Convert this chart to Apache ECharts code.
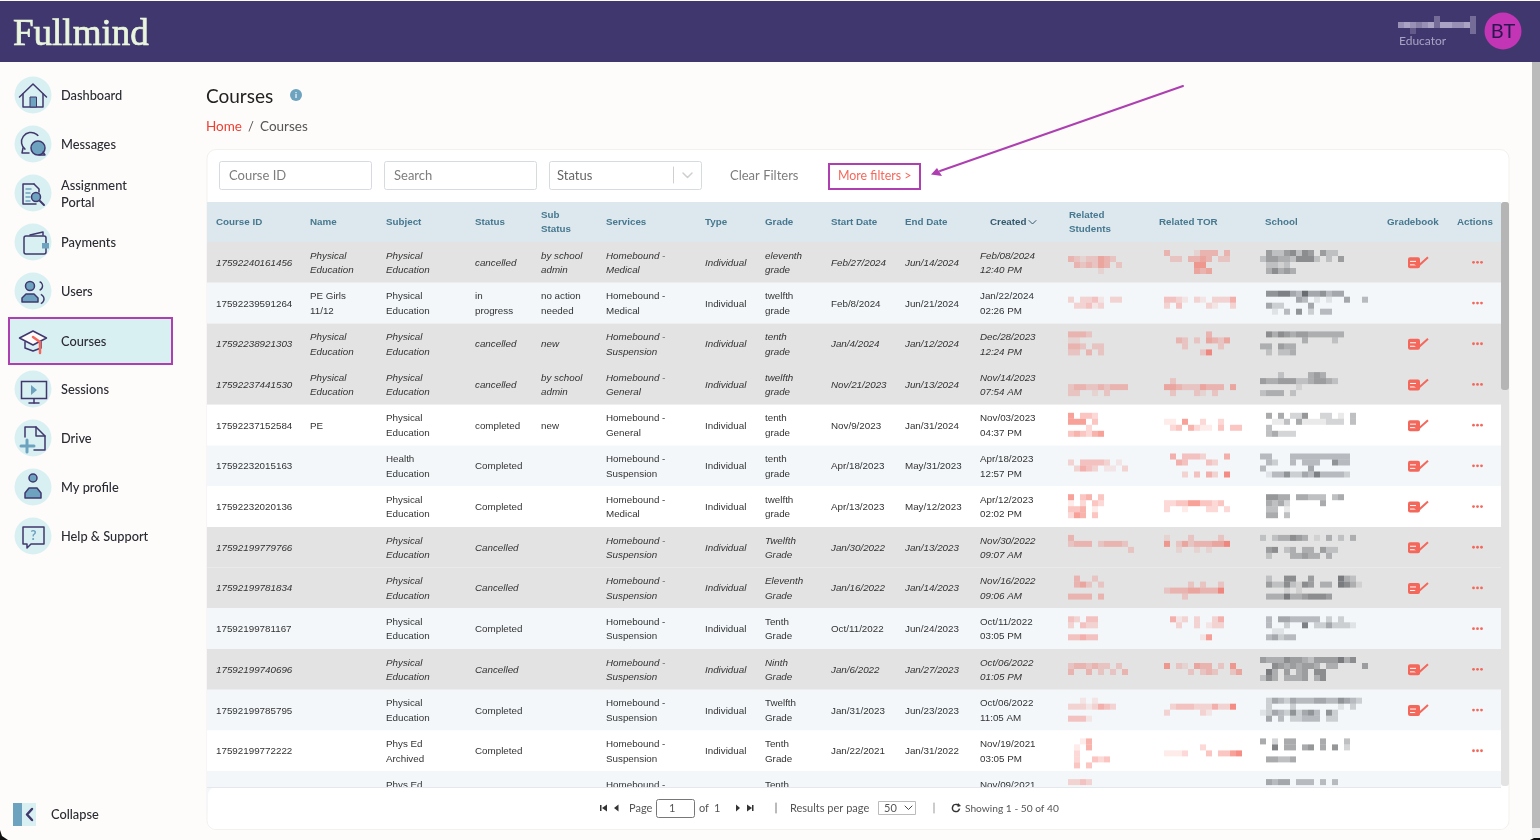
<!DOCTYPE html>
<html>
<head>
<meta charset="utf-8">
<title>Courses</title>
<script src="https://cdn.jsdelivr.net/npm/echarts@6/dist/echarts.min.js"></script>
<style>
html, body { margin: 0; padding: 0; background: #fdfcfa; overflow: hidden; }
#main { width: 1540px; height: 840px; }
</style>
</head>
<body>
<div id="main"></div>
<script>
// table content
const courseIds = ['17592240161456','17592239591264','17592238921303','17592237441530','17592237152584','17592232015163','17592232020136','17592199779766','17592199781834','17592199781167','17592199740696','17592199785795','17592199772222',''];
const names = ['Physical\nEducation','PE Girls\n11/12','Physical\nEducation','Physical\nEducation','PE','','','','','','','','',''];
const subjects = ['Physical\nEducation','Physical\nEducation','Physical\nEducation','Physical\nEducation','Physical\nEducation','Health\nEducation','Physical\nEducation','Physical\nEducation','Physical\nEducation','Physical\nEducation','Physical\nEducation','Physical\nEducation','Phys Ed\nArchived','Phys Ed\n '];
const statuses = ['cancelled','in\nprogress','cancelled','cancelled','completed','Completed','Completed','Cancelled','Cancelled','Completed','Cancelled','Completed','Completed',''];
const subStatuses = ['by school\nadmin','no action\nneeded','new','by school\nadmin','new','','','','','','','','',''];
const services = ['Homebound -\nMedical','Homebound -\nMedical','Homebound -\nSuspension','Homebound -\nGeneral','Homebound -\nGeneral','Homebound -\nSuspension','Homebound -\nMedical','Homebound -\nSuspension','Homebound -\nSuspension','Homebound -\nSuspension','Homebound -\nSuspension','Homebound -\nSuspension','Homebound -\nSuspension','Homebound -\n '];
const types = ['Individual','Individual','Individual','Individual','Individual','Individual','Individual','Individual','Individual','Individual','Individual','Individual','Individual',''];
const grades = ['eleventh\ngrade','twelfth\ngrade','tenth\ngrade','twelfth\ngrade','tenth\ngrade','tenth\ngrade','twelfth\ngrade','Twelfth\nGrade','Eleventh\nGrade','Tenth\nGrade','Ninth\nGrade','Twelfth\nGrade','Tenth\nGrade','Tenth\n '];
const startDates = ['Feb/27/2024','Feb/8/2024','Jan/4/2024','Nov/21/2023','Nov/9/2023','Apr/18/2023','Apr/13/2023','Jan/30/2022','Jan/16/2022','Oct/11/2022','Jan/6/2022','Jan/31/2023','Jan/22/2021',''];
const endDates = ['Jun/14/2024','Jun/21/2024','Jan/12/2024','Jun/13/2024','Jan/31/2024','May/31/2023','May/12/2023','Jan/13/2023','Jan/14/2023','Jun/24/2023','Jan/27/2023','Jun/23/2023','Jan/31/2022',''];
const createdDates = ['Feb/08/2024\n12:40 PM','Jan/22/2024\n02:26 PM','Dec/28/2023\n12:24 PM','Nov/14/2023\n07:54 AM','Nov/03/2023\n04:37 PM','Apr/18/2023\n12:57 PM','Apr/12/2023\n02:02 PM','Nov/30/2022\n09:07 AM','Nov/16/2022\n09:06 AM','Oct/11/2022\n03:05 PM','Oct/06/2022\n01:05 PM','Oct/06/2022\n11:05 AM','Nov/19/2021\n03:05 PM','Nov/09/2021\n '];
const hasGradebook = [1,0,1,1,1,1,1,1,1,0,1,1,0,0];
const hasActions = [1,1,1,1,1,1,1,1,1,1,1,1,1,0];

const headers = ['Course ID','Name','Subject','Status','Sub\nStatus','Services','Type','Grade','Start Date','End Date','Created','Related\nStudents','Related TOR','School','Gradebook','Actions'];
const navLabels = ['Dashboard','Messages','Assignment\nPortal','Payments','Users','Courses','Sessions','Drive','My profile','Help & Support'];

// blurred cells, one digit per 6px block, darker = higher
const studentBlur = [
  ['', '32122432', '.323243.2', '.....1'],
  ['', '2.2231.22', '.22312...'],
  ['3332', '11', '332.22', '22.3.2'],
  ['', '..........', '2332232333.', '22..1.2'],
  ['5.332', '555.3', '...2', '343245'],
  ['', '2.33332.1.', '.2432.11.2.'],
  ['5.34.3', '1.2.32', '334.1', '254.3'],
  ['3.', '2333.23332', '..........2'],
  ['.3..2', '.342.2', '', '3333.3'],
  ['32.33', '2.322', '', '33433'],
  ['', '2332322.2', '3..3.2.2.3'],
  ['..1.1', '22212432', '', '3331'],
  ['..14', '.1.4', '.2', '.2..323', '.3.3'],
  ['2232']
];
const torBlur = [
  ['3....1333.3', '.22.3343.22', '.....55', '.....434'],
  ['', '3321.21.2224', '2.3....21..2'],
  ['.......3', '..32.2.4324', '...2.....2', '......26'],
  ['', '.2', '4432224333.4', '.2...21.2'],
  ['', '11.5..2..2', '.23.4211.3.33'],
  ['.4.3332...4', '..43...32', '.........', '...2.3.42.6'],
  ['', '2233553323', '2..1...22.2'],
  ['1...2....2', '5.242333446', '..1..1.1'],
  ['', '....2.2..2', '2333443336', '...2'],
  ['.412.2..24', '..2..2.122', '', '......15'],
  ['', '5.21.433.2.5', '....2.232..24'],
  ['', '.23332224226', '2.....21'],
  ['', '......2', '1112...3.3356'],
  ['']
];
const schoolBlur = [
  ['.42245254.422', '2443325552 2.4', '.2212', '.35343'],
  ['.5566437445344', '......43.1.1..4..3', '.422....4', '..1.3.5.2.33'],
  ['.5354344333333', '.......3....2', '33.433', '.2.223'],
  ['...2....343', '4334442234432', '......1', '2333.2'],
  ['.4.4.225..22.1.3', '..113.41111222 3', '.3', '.34222'],
  ['33...3333333333', '.32..3.333..533', '3.......4', '.13352243633332'],
  ['.5544.44333.34', '.4342.....4', '.33.1', '.44.3'],
  ['2.233543.1.3.2.3', '', '.45.23.33.422', '.2...33433.3'],
  ['.2..55..4....632', '.42252154.33.6531', '....1.1', '.33363345554'],
  ['.3.4433333.2.2', '.3..2..6.2242221', '..11', '.34233'],
  ['4333544324444635', '..54343443 33....4', '.63.4.34.55', '253.3334.35'],
  ['.2432433344335432', '.2...2.......1.2', '1243252453 52', '.4.3.22333.22'],
  ['4.2.44....4...3', '..6.44.45.4.5.2', '', '.44334'],
  ['.4344.333.3.3']
];

const ROW_COUNT = courseIds.length;
const ROW_H = 40.7;
const TABLE_TOP = 242;
const TABLE_LEFT = 207;
const TABLE_RIGHT = 1501;
const colX = [216,310,386,475,541,606,705,765,831,905,980,1069,1159,1265,1387,1457];
const bodyCols = [courseIds, names, subjects, statuses, subStatuses, services, types, grades, startDates, endDates, createdDates];
const blurX = [1068, 1164, 1260];
const PURPLE = '#40376e';
const ACCENT = '#ad3fb0';
const BLUE = '#6ea3c0';
const PALE = '#d9f0f2';
const RED = '#f4685c';
const UI_FONT = 'Lato';
const TABLE_FONT = '"Liberation Sans"';

function isCancelled(i) {
  return /cancelled/i.test(statuses[i]);
}

// element helpers
function text(x, y, str, o) {
  o = o || {};
  return { type: 'text', z: o.z || 8, silent: true, x, y, style: { text: str, fill: o.fill || '#333', fontSize: o.size || 13, fontFamily: o.font || UI_FONT, fontWeight: o.weight || 'normal', fontStyle: o.italic ? 'italic' : 'normal', align: o.align || 'left', verticalAlign: 'middle', lineHeight: o.lh || undefined, stroke: o.stroke || null, lineWidth: o.strokeWidth || 0 } };
}
function line(points, color, w) {
  return { type: 'polyline', z: 7, silent: true, shape: { points }, style: { stroke: color || PURPLE, lineWidth: w || 1.5, fill: null, lineCap: 'round', lineJoin: 'round' } };
}
function poly(points, fill, stroke) {
  return { type: 'polygon', z: 7, silent: true, shape: { points }, style: { fill, stroke: stroke || null, lineWidth: 1.5, lineJoin: 'round' } };
}
function circle(cx, cy, r, fill, stroke, w, z) {
  return { type: 'circle', z: z || 7, silent: true, shape: { cx, cy, r }, style: { fill: fill || null, stroke: stroke || null, lineWidth: w || 1.5 } };
}
function arc(cx, cy, r, a0, a1, color) {
  return { type: 'arc', z: 7, silent: true, shape: { cx, cy, r, startAngle: a0, endAngle: a1, clockwise: true }, style: { stroke: color || PURPLE, lineWidth: 1.5, fill: null } };
}
function box(x, y, w, h, fill, stroke, sw, r, z) {
  return { type: 'rect', z: z === undefined ? 7 : z, silent: true, shape: { x, y, width: w, height: h, r: r || 0 }, style: { fill: fill || null, stroke: stroke || null, lineWidth: sw || 1 } };
}

const els = [];

// top bar
els.push(box(0, 1, 1540, 61, PURPLE, null, 0, 0, 4));
els.push(text(13, 35, 'Fullmind', { size: 37, font: '"Liberation Serif"', fill: '#e9f6dd', stroke: '#e9f6dd', strokeWidth: 0.7 }));
const namePixels = ['......3.....3', '5654563665563', '..2.........3', '...........'];
namePixels.forEach((r, ry) => {
  [...r].forEach((c, cx) => {
    if (c !== '.') els.push(box(1398 + cx * 6, 16 + ry * 6, 6, 6, 'rgba(225,220,240,' + (+c * 0.11) + ')'));
  });
});
els.push(text(1399, 41, 'Educator', { size: 12, fill: '#a9a3c4' }));
els.push(circle(1503, 31, 18.5, '#c236b5'));
els.push(text(1503, 32, 'BT', { size: 20, fill: '#2a1650', align: 'center' }));

// outer scrollbar
els.push(box(1532, 62, 8, 766, '#bbbbbb'));
els.push(box(1532, 828, 8, 10, '#ececec'));

// sidebar
const navY = [95, 144, 193, 242, 291, 341, 389, 438, 487, 536];
els.push(box(9, 318, 163, 46, PALE, ACCENT, 2, 0, 4));
navLabels.forEach((label, i) => {
  if (i !== 5) els.push(circle(33, navY[i], 18.5, PALE, null, 0, 5));
  els.push(text(61, navY[i] + 1, label, { size: 12.8, fill: '#2b2b33', lh: 17, weight: 500 }));
});

// home
els.push(line([[19.5, 97], [33, 84], [46.5, 97]]));
els.push(line([[23, 94], [23, 107], [43, 107], [43, 94]]));
els.push(box(30, 97, 6.5, 10, BLUE, PURPLE, 1));
// messages
els.push(arc(31, 142, 9.5, 2.2, 0.2 + Math.PI * 2 - 0.9));
els.push(line([[23, 148], [22, 153], [29, 153]]));
els.push(circle(38, 148, 7, BLUE, PURPLE));
els.push(line([[43, 152], [45, 155], [39, 155]]));
// assignment portal
els.push(line([[34, 184], [23, 184], [23, 204], [36, 204]]));
els.push(line([[34, 184], [39, 189], [39, 192]]));
els.push(line([[26, 189], [31, 189]], BLUE));
els.push(line([[26, 193], [30, 193]], BLUE));
els.push(line([[26, 197], [30, 197]], BLUE));
els.push(line([[26, 201], [30, 201]], BLUE));
els.push(circle(36, 197, 4.5, BLUE, PURPLE));
els.push(line([[40, 201], [44, 205]], PURPLE, 2));
// payments
els.push(box(24, 236, 22, 18, null, PURPLE, 1.5, 2));
els.push(line([[30, 235], [43, 232], [43, 235]]));
els.push(box(42, 243, 7, 5.5, BLUE));
// users
els.push(circle(30, 286, 4.5, BLUE, PURPLE));
els.push(poly([[22, 302], [22, 298], [26, 294], [34, 294], [38, 298], [38, 302]], BLUE, PURPLE));
els.push(arc(38, 286, 4.5, -1.2, 1.2));
els.push(arc(39, 299, 5, -1.2, 1.2));
// courses
els.push(poly([[19.5, 338], [33, 331], [46.5, 338], [33, 345]], '#fdfcfa', PURPLE));
els.push(line([[25, 342], [25, 348], [33, 351], [41, 348], [41, 342]]));
els.push(line([[33, 337], [40, 342], [40, 353]], RED, 2.5));
// sessions
els.push(box(21.5, 381.5, 25, 17, null, PURPLE, 1.5));
els.push(poly([[31, 385], [37, 390], [31, 395]], BLUE));
els.push(line([[34, 399], [34, 403]]));
els.push(line([[29, 403], [39, 403]]));
// drive
els.push(line([[25, 437], [25, 427], [36, 427], [45, 436], [45, 450], [34, 450]]));
els.push(line([[36, 427], [36, 436], [45, 436]]));
els.push(line([[21, 446], [34, 446]], BLUE, 3));
els.push(line([[27, 440], [27, 452]], BLUE, 3));
// my profile
els.push(circle(33, 478, 4, BLUE, PURPLE));
els.push(poly([[25, 498], [25, 493], [29, 488], [37, 488], [41, 493], [41, 498]], BLUE, PURPLE));
// help
els.push(line([[25, 527], [44, 527], [44, 544], [31, 544], [27, 548], [27, 544], [23, 544], [23, 527], [25, 527]]));
els.push(text(33.5, 535.5, '?', { size: 13, fill: BLUE, align: 'center', weight: 'bold' }));
// collapse
els.push(box(13, 803, 9, 23, BLUE));
els.push(box(22, 803, 14, 23, PALE));
els.push(line([[32, 809], [27, 814.5], [32, 820]], PURPLE, 2.5));
els.push(text(51, 814.5, 'Collapse', { size: 12.8, fill: '#2b2b33', weight: 500 }));

// page title and breadcrumb
els.push(text(206, 97, 'Courses', { size: 19, fill: '#222' }));
els.push(circle(296, 95, 6, BLUE));
els.push(text(296, 95, 'i', { size: 8, fill: '#fff', align: 'center', weight: 'bold' }));
els.push(text(206, 127, 'Home', { size: 13.5, fill: '#ee3f33' }));
els.push(text(248, 127, '/', { size: 13, fill: '#555' }));
els.push(text(260, 127, 'Courses', { size: 13.5, fill: '#555' }));

// card behind the table
els.push(box(207, 149.5, 1302, 680, '#ffffff', '#f3f1ee', 1, 9, 1));

// filter row
els.push(box(219.5, 161.5, 152, 28, '#fff', '#d6dbe0', 1, 2));
els.push(text(229, 176, 'Course ID', { size: 13, fill: '#7d7d7d' }));
els.push(box(384.5, 161.5, 152, 28, '#fff', '#d6dbe0', 1, 2));
els.push(text(394, 176, 'Search', { size: 13, fill: '#7d7d7d' }));
els.push(box(549.5, 161.5, 152, 28, '#fff', '#d6dbe0', 1, 2));
els.push(text(557, 176, 'Status', { size: 13, fill: '#666' }));
els.push(line([[673.5, 167], [673.5, 183]], '#cfcfcf', 1));
els.push(line([[683, 173], [687.5, 177.5], [692, 173]], '#cfcfcf', 1.5));
els.push(text(730, 176, 'Clear Filters', { size: 13, fill: '#7d7d7d' }));
els.push(box(829, 164, 91, 25, null, ACCENT, 2));
els.push(text(838, 176, 'More filters >', { size: 12.4, fill: RED }));

// annotation arrow
els.push(line([[1183, 86], [940, 171]], ACCENT, 2));
els.push(poly([[931, 174.5], [937, 168], [942, 176]], ACCENT));

// table header
els.push(box(207, 202, 1294, 40, '#dce8ee'));
headers.forEach((h, i) => {
  const created = h === 'Created';
  els.push(text(created ? 990 : colX[i], 222.5, h, { size: 9.8, font: TABLE_FONT, weight: 'bold', fill: created ? '#35596c' : '#47788f', lh: 14 }));
});
els.push(line([[1029, 220.5], [1032.5, 224], [1036, 220.5]], '#35596c', 1));

// inner scrollbar
els.push(box(1501, 202, 8, 584, '#e3e3e3', null, 0, 3, 7));
els.push(box(1501, 202, 8, 188, '#b5b5b5', null, 0, 3, 7));

// pager, sits on top of the last clipped row
els.push(box(208, 787, 1300, 42, '#ffffff', null, 0, 8, 10));
els.push(box(207, 787, 1294, 1, '#e4e8ec', null, 0, 0, 10));
function pagerText(x, str, size) {
  return text(x, 808.5, str, { size: size || 11, fill: '#555', z: 11 });
}
function pagerIcon(el) {
  el.z = 11;
  return el;
}
els.push(pagerIcon(box(600, 805, 1.5, 6, '#333')));
els.push(pagerIcon(poly([[607, 804.5], [602, 808], [607, 811.5]], '#333')));
els.push(pagerIcon(poly([[618.5, 804.5], [614, 808], [618.5, 811.5]], '#333')));
els.push(pagerText(629, 'Page'));
els.push(box(656.5, 799.5, 38, 18, '#fff', '#777', 1, 2, 11));
els.push(pagerText(669, '1'));
els.push(pagerText(699, 'of'));
els.push(pagerText(714, '1'));
els.push(pagerIcon(poly([[736, 804.5], [740, 808], [736, 811.5]], '#333')));
els.push(pagerIcon(poly([[747, 804.5], [752, 808], [747, 811.5]], '#333')));
els.push(pagerIcon(box(752, 805, 1.5, 6, '#333')));
els.push(pagerIcon(line([[776, 803], [776, 813]], '#777', 1)));
els.push(pagerText(790, 'Results per page'));
els.push(box(878.5, 801.5, 37, 13, '#fff', '#bbb', 1, 0, 11));
els.push(pagerText(884, '50'));
els.push(pagerIcon(line([[905, 806], [908.5, 809.5], [912, 806]], '#444', 1)));
els.push(pagerIcon(line([[934, 803], [934, 813]], '#999', 1)));
els.push(pagerIcon(arc(956, 808, 3.6, 0.2, 5.4, '#333')));
els.push(pagerIcon(poly([[958, 803], [961, 806], [957.5, 807]], '#333')));
els.push(pagerText(965, 'Showing 1 - 50 of 40', 10.2));

// bottom window corners
els.push(poly([[0, 830], [2, 836], [8, 840], [0, 840]], '#111'));
els.push(poly([[1530, 840], [1540, 840], [1540, 838], [1534, 838]], '#111'));

function mosaic(children, pattern, x0, y0, rgb) {
  pattern.forEach((r, ry) => {
    [...r].forEach((c, cx) => {
      if (c === '.' || c === ' ') return;
      children.push({ type: 'rect', shape: { x: x0 + cx * 6, y: y0 + ry * 6, width: 6, height: 6 }, style: { fill: 'rgba(' + rgb + ',' + (+c * 0.125) + ')' } });
    });
  });
}

function renderRow(params, api) {
  const i = api.value(1);
  const center = api.coord([0, i]);
  const left = api.coord([TABLE_LEFT, i])[0];
  const right = api.coord([TABLE_RIGHT, i])[0];
  const top = center[1] - ROW_H / 2;
  const cancelled = isCancelled(i);
  const children = [{
    type: 'rect',
    shape: { x: left, y: top, width: right - left, height: ROW_H },
    style: { fill: cancelled ? '#e3e3e3' : (i % 2 ? '#f3f7fa' : '#ffffff') }
  }];
  bodyCols.forEach((col, c) => {
    if (!col[i]) return;
    children.push({
      type: 'text',
      style: {
        x: api.coord([colX[c], i])[0], y: center[1] + 0.8, text: col[i],
        fill: '#333', fontSize: 9.8, fontFamily: TABLE_FONT,
        fontStyle: cancelled ? 'italic' : 'normal',
        align: 'left', verticalAlign: 'middle', lineHeight: 14.5
      }
    });
  });
  mosaic(children, studentBlur[i], blurX[0], top + 8, '244,104,92');
  mosaic(children, torBlur[i], blurX[1], top + 8, '244,104,92');
  mosaic(children, schoolBlur[i], blurX[2], top + 8, '85,88,92');
  if (hasGradebook[i]) {
    const y = center[1];
    children.push({ type: 'rect', shape: { x: 1408, y: y - 5, width: 12, height: 11, r: 2 }, style: { fill: RED } });
    children.push({ type: 'rect', shape: { x: 1410, y: y - 1.5, width: 6, height: 1 }, style: { fill: '#fff' } });
    children.push({ type: 'rect', shape: { x: 1410, y: y + 2, width: 6, height: 1 }, style: { fill: '#fff' } });
    children.push({ type: 'polyline', shape: { points: [[1415, y + 1], [1418, y + 4], [1428, y - 5]] }, style: { stroke: RED, lineWidth: 2, fill: null } });
  }
  if (hasActions[i]) {
    [1473.5, 1477.5, 1481.5].forEach(x => {
      children.push({ type: 'circle', shape: { cx: x, cy: center[1], r: 1.4 }, style: { fill: RED } });
    });
  }
  return { type: 'group', children };
}

const chart = echarts.init(document.getElementById('main'), null, { renderer: 'canvas' });
chart.setOption({
  animation: false,
  backgroundColor: '#fdfcfa',
  tooltip: { show: false },
  grid: { left: 0, right: 0, top: TABLE_TOP, height: ROW_H * ROW_COUNT, containLabel: false },
  xAxis: { type: 'value', min: 0, max: 1540, show: false },
  yAxis: { type: 'category', inverse: true, show: false, data: courseIds.map((id, i) => String(i)) },
  series: [{
    type: 'custom',
    z: 2,
    silent: true,
    clip: false,
    encode: { x: 0, y: 1 },
    renderItem: renderRow,
    data: courseIds.map((id, i) => [0, i])
  }],
  graphic: { elements: els }
});
</script>
</body>
</html>
